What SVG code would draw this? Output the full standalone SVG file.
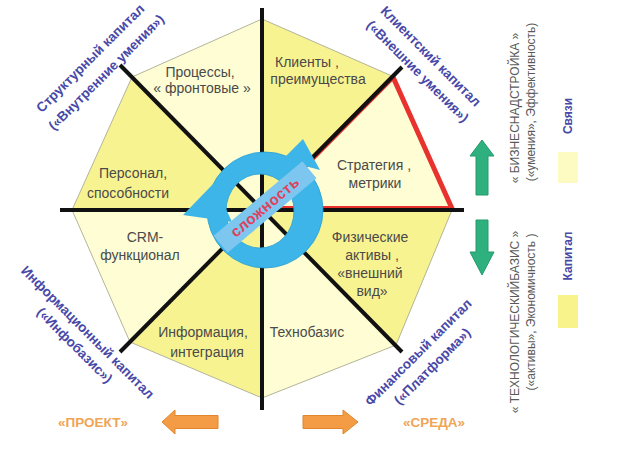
<svg xmlns="http://www.w3.org/2000/svg" width="620" height="465" viewBox="0 0 620 465">
<defs>
<style>
text{font-family:"Liberation Sans",Arial,sans-serif}
.lab{font-size:14px;fill:#4a4a4a;text-anchor:middle}
.cap{font-size:13.5px;font-weight:bold;fill:#4848a8;text-anchor:middle}
.side{font-size:12px;fill:#5a5a5a;text-anchor:middle}
.leg{font-size:12px;font-weight:bold;fill:#4848a8;text-anchor:middle}
.org{font-size:13.5px;font-weight:bold;fill:#f0a456;text-anchor:middle}
.sat{fill:#f8f391}
.pale{fill:#fefdd3}
.spoke{stroke:#111;stroke-width:4;stroke-linecap:butt}
.oarr{fill:#f39b45;stroke:#e0862e;stroke-width:1}
.garr{fill:#2fb07f;stroke:#24996c;stroke-width:1}
</style>
</defs>
<rect width="620" height="465" fill="#ffffff"/>

<g id="octagon">
<polygon class="pale" points="262,210 132,77 262,19"/>
<polygon class="sat" points="262,210 262,19 392,76"/>
<polygon class="pale" points="262,210 392,76 452,210"/>
<polygon class="sat" points="262,210 452,210 396,345"/>
<polygon class="pale" points="262,210 396,345 262,398"/>
<polygon class="sat" points="262,210 262,398 130,342"/>
<polygon class="pale" points="262,210 130,342 72,210"/>
<polygon class="sat" points="262,210 72,210 132,77"/>
<polygon points="262,19 392,76 452,210 396,345 262,398 130,342 72,210 132,77" fill="none" stroke="#b4b49a" stroke-width="1"/>
</g>

<g id="red-triangle">
<polygon points="263,208.5 393,77 452,208.5" fill="none" stroke="#e8322e" stroke-width="5" stroke-linejoin="miter"/>
</g>

<g id="connectors">
<line class="spoke" x1="262" y1="8" x2="262" y2="410"/>
<line class="spoke" x1="60" y1="210" x2="464" y2="210"/>
<line class="spoke" x1="120" y1="65" x2="402" y2="352"/>
<line class="spoke" x1="120" y1="352" x2="402" y2="67"/>
</g>

<g id="sector-labels">
<g id="n-processes"><text class="lab" x="200" y="77">Процессы,</text><text class="lab" x="202" y="93">« фронтовые »</text></g>
<g id="n-clients"><text class="lab" x="307" y="67">Клиенты ,</text><text class="lab" x="318" y="84">преимущества</text></g>
<g id="n-strategy"><text class="lab" x="374" y="170">Стратегия ,</text><text class="lab" x="375" y="188">метрики</text></g>
<g id="n-personal"><text class="lab" x="133" y="178">Персонал,</text><text class="lab" x="128" y="198">способности</text></g>
<g id="n-crm"><text class="lab" x="145" y="242">CRM-</text><text class="lab" x="140" y="260">функционал</text></g>
<g id="n-info"><text class="lab" x="203" y="337">Информация,</text><text class="lab" x="207" y="357">интеграция</text></g>
<g id="n-techno"><text class="lab" x="307" y="337">Технобазис</text></g>
<g id="n-physical"><text class="lab" x="370" y="242">Физические</text><text class="lab" x="372" y="260">активы ,</text><text class="lab" x="370" y="278">«внешний</text><text class="lab" x="372" y="296">вид»</text></g>
</g>

<g id="complexity">
<path fill-rule="evenodd" fill="#3db5e8" stroke="#2a9fd2" stroke-width="0.8" d="M323,210 A58,58 0 1,1 207,210 A58,58 0 1,1 323,210 Z M294,211 A34,37 0 1,0 226,211 A34,37 0 1,0 294,211 Z"/>
<polygon points="183,215 214,183 232,222" fill="#3db5e8"/>
<polygon points="303,139 282,160 320,170" fill="#3db5e8"/>
<g transform="translate(265,207) rotate(-40)">
<rect x="-58" y="-11" width="116" height="22" fill="#7cc6ef"/>
<text x="0" y="5" font-size="15" font-weight="bold" fill="#e0405a" text-anchor="middle" letter-spacing="0.5">сложность</text>
</g>
</g>

<g id="capital-labels">
<g id="n-struct"><text class="cap" transform="translate(90,58) rotate(-45)" y="5">Структурный капитал</text><text class="cap" transform="translate(106,72) rotate(-45)" y="5">(«Внутренние умения»)</text></g>
<g id="n-client-cap"><text class="cap" transform="translate(431,56) rotate(45)" y="5">Клиентский капитал</text><text class="cap" transform="translate(418,71) rotate(45)" y="5">(«Внешние умения»)</text></g>
<g id="n-info-cap"><text class="cap" transform="translate(88,332) rotate(45)" y="5">Информационный капитал</text><text class="cap" transform="translate(75,345) rotate(45)" y="5">(«Инфобазис»)</text></g>
<g id="n-fin-cap"><text class="cap" transform="translate(418,352) rotate(-45)" y="5">Финансовый капитал</text><text class="cap" transform="translate(432,366) rotate(-45)" y="5">(«Платформа»)</text></g>
</g>

<g id="bottom">
<text class="org" x="93" y="427">«ПРОЕКТ»</text>
<polygon class="oarr" points="162,422 175,410 175,415.5 218,415.5 218,428.5 175,428.5 175,434"/>
<polygon class="oarr" points="358,422 343,410 343,415.5 303,415.5 303,428.5 343,428.5 343,434"/>
<text class="org" x="434" y="427">«СРЕДА»</text>
</g>

<g id="right">
<polygon class="garr" points="482,140 494,156 488,156 488,195 476,195 476,156 470,156"/>
<polygon class="garr" points="482,275 494,252 488,252 488,220 476,220 476,252 470,252"/>
<text class="side" transform="translate(519,108) rotate(-90)">« БИЗНЕСНАДСТРОЙКА »</text>
<text class="side" transform="translate(535,102) rotate(-90)">(«умения», Эффективность)</text>
<text class="side" transform="translate(519,322) rotate(-90)">« ТЕХНОЛОГИЧЕСКИЙБАЗИС »</text>
<text class="side" transform="translate(535,312) rotate(-90)">(«активы», Экономичность )</text>
</g>

<g id="legend">
<text class="leg" transform="translate(572,116) rotate(-90)">Связи</text>
<rect x="558" y="152" width="20" height="31" fill="#fefbc2"/>
<text class="leg" transform="translate(572,256) rotate(-90)">Капитал</text>
<rect x="558" y="295" width="20" height="33" fill="#f8f38a"/>
</g>
</svg>
